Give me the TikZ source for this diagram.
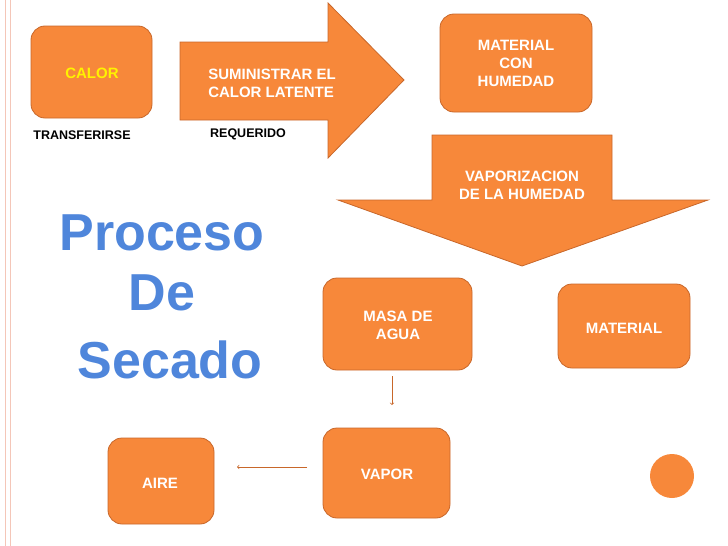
\documentclass[tikz,border=0pt]{standalone}
\usepackage{fontspec}
\setmainfont{Liberation Sans}
\definecolor{naranja}{HTML}{F7883A}
\definecolor{borde}{HTML}{C8672A}
\definecolor{azul}{HTML}{4F86DB}
\definecolor{margen}{HTML}{F4C6B8}
\begin{document}
\begin{tikzpicture}[x=1pt,y=-1pt,
    caja/.style={draw=borde,fill=naranja,rounded corners=14pt,line width=0.8pt},
    txt/.style={font=\bfseries\fontsize{15}{18}\selectfont,text=white,align=center},
    etiq/.style={font=\bfseries\fontsize{12.5}{15}\selectfont,text=black},
    titulo/.style={font=\bfseries\fontsize{52}{56}\selectfont,text=azul,draw=none}]
    \useasboundingbox (0,0) rectangle (728,546);
    \draw[margen,line width=1pt] (5,0) -- (5,546);
    \draw[margen,line width=1pt] (10,0) -- (10,546);
    % cajas
    \draw[caja] (31,26) rectangle (152,118);
    \node[txt,text=yellow](calor) at (92,73) {CALOR};
    \node[etiq](transf) at (82,135) {TRANSFERIRSE};
    \draw[fill=naranja,draw=borde,line width=0.8pt] (180,42) -- (328,42) -- (328,3) -- (404,80) -- (328,158) -- (328,120) -- (180,120) -- cycle;
    \node[txt,align=left](sumin) at (272,83) {SUMINISTRAR EL\\CALOR LATENTE};
    \node[etiq](req) at (248,134) {REQUERIDO};
    \draw[caja] (440,14) rectangle (592,112);
    \node[txt](mathum) at (516,63) {MATERIAL\\CON\\HUMEDAD};
    \draw[fill=naranja,draw=borde,line width=0.8pt] (432,135) -- (612,135) -- (612,200) -- (708,200) -- (522,266) -- (338,200) -- (432,200) -- cycle;
    \node[txt](vapori) at (522,185) {VAPORIZACION\\DE LA HUMEDAD};
    % titulo
    \node[titulo](t1) at (162,233) {Proceso};
    \node[titulo](t2) at (162,293) {De};
    \node[titulo](t3) at (170,360) {Secado};
    \draw[caja] (323,278) rectangle (472,370);
    \node[txt](masa) at (398,325) {MASA DE\\AGUA};
    \draw[caja] (558,284) rectangle (690,368);
    \node[txt](mat) at (624,328) {MATERIAL};
    \draw[caja] (323,428) rectangle (450,518);
    \node[txt](vapor) at (387,474) {VAPOR};
    \draw[caja] (108,438) rectangle (214,524);
    \node[txt](aire) at (160,483) {AIRE};
    \fill[naranja] (672,476) circle (22);
    % flechas
    \coordinate (a1) at (392,376);
    \coordinate (a2) at (392,405);
    \coordinate (b1) at (307,467);
    \coordinate (b2) at (237,467);
    \draw[->,borde,line width=0.7pt] (a1) -- (a2);
    \draw[->,borde,line width=0.7pt] (b1) -- (b2);
\end{tikzpicture}
\end{document}
